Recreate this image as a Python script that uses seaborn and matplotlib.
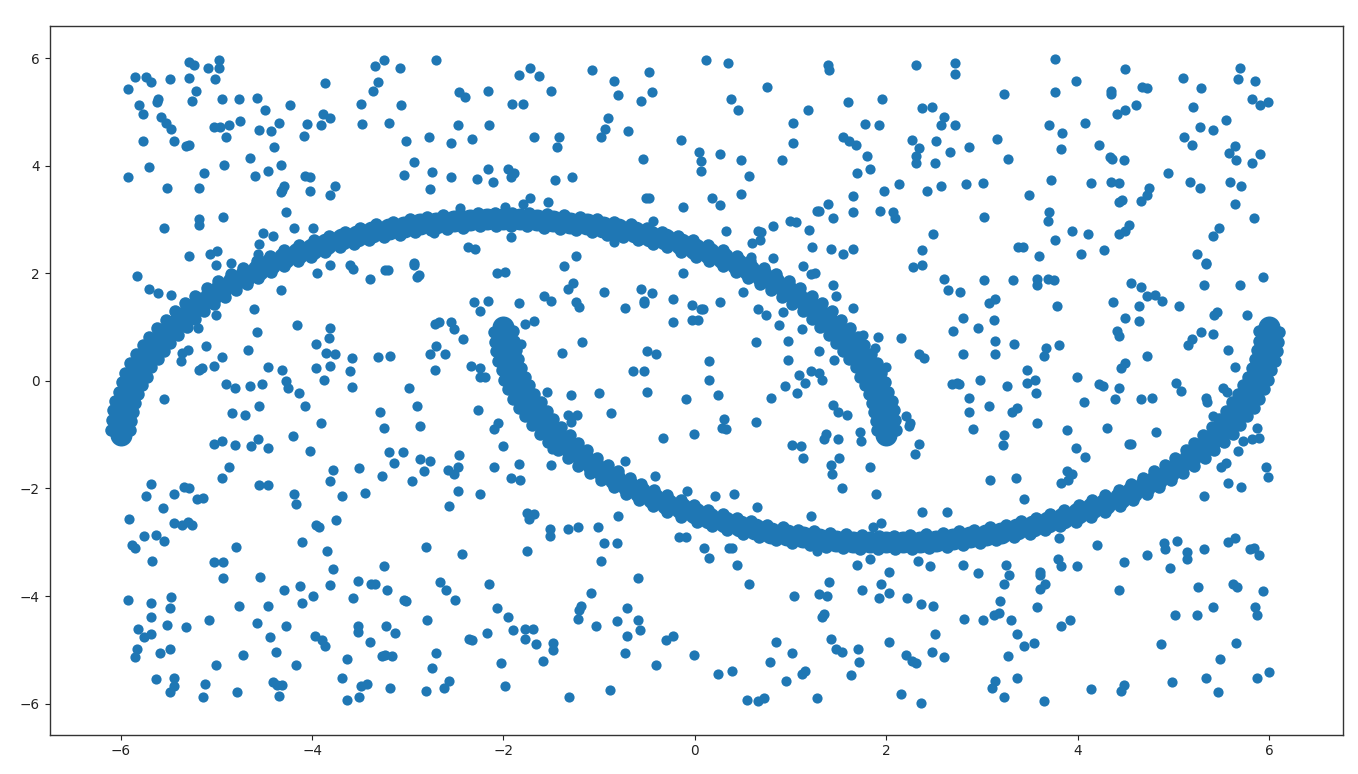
import matplotlib
matplotlib.use("Agg")
import matplotlib.pyplot as plt
import seaborn as sns

# Scattered points
region_top_1 = [(-4.97,5.96),(-4.97,5.82),(-5.29,5.93),(-5.23,5.88),(-5.09,5.82),(-5.85,5.64),(-5.74,5.64),(-5.68,5.55),(-5.49,5.61),(-5.29,5.63),(-5.01,5.61),(-3.86,5.53),(-5.92,5.42),(-5.21,5.39),(-5.81,5.12),(-5.77,4.96),(-5.61,5.23),(-5.62,5.18),(-5.26,5.20),(-4.94,5.23),(-4.76,5.23),(-4.58,5.25),(-4.49,5.04),(-4.23,5.12),(-3.49,5.15),(-5.58,4.91),(-5.53,4.80),(-5.47,4.69),(-5.03,4.72),(-4.96,4.72),(-4.87,4.75),(-4.75,4.83),(-4.55,4.67),(-4.43,4.64),(-4.35,4.80),(-4.05,4.77),(-3.91,4.75),(-3.89,4.96),(-3.81,4.88),(-3.48,4.77),(-4.08,4.56),(-4.90,4.53),(-5.77,4.45),(-5.44,4.45),(-5.32,4.37),(-5.29,4.39),(-4.40,4.34),(-4.65,4.15),(-4.92,4.02),(-4.32,4.02),(-4.46,3.91),(-5.70,3.97),(-5.92,3.78),(-5.13,3.86),(-4.60,3.81),(-4.07,3.81),(-4.02,3.78),(-5.52,3.59),(-5.18,3.59),(-4.29,3.62),(-4.32,3.51),(-4.31,3.55),(-4.02,3.53),(-3.76,3.62),(-3.81,3.45),(-4.27,3.13),(-4.93,3.05),(-5.18,3.00),(-5.18,2.89),(-5.55,2.84),(-4.19,2.84),(-3.99,2.84),(-4.51,2.75),(-4.41,2.70),(-4.55,2.54),(-4.56,2.35),(-5.29,2.33),(-5.07,2.35),(-4.99,2.41),(-4.85,2.20)]
region_top_2 = [(-3.34,5.85),(-3.25,5.96),(-3.08,5.82),(-2.71,5.96),(-3.31,5.55),(-3.36,5.39),(-3.07,5.12),(-3.20,4.80),(-3.02,4.45),(-2.78,4.53),(-2.55,4.42),(-2.33,4.50),(-2.48,4.75),(-2.15,4.75),(-2.46,5.36),(-2.40,5.28),(-2.16,5.39),(-1.84,5.69),(-1.72,5.82),(-1.63,5.66),(-1.50,5.39),(-1.91,5.15),(-1.80,5.15),(-1.68,4.53),(-1.42,4.53),(-1.44,4.34),(-1.07,5.77),(-0.85,5.58),(-0.48,5.74),(-0.45,5.36),(-0.80,5.31),(-0.56,5.20),(-0.91,4.88),(-0.94,4.69),(-0.98,4.53),(-0.70,4.64),(-0.15,4.48),(0.04,4.26),(0.06,4.08),(0.06,3.91),(-0.54,4.13),(-2.93,4.07),(-3.04,3.83),(-2.75,3.89),(-2.55,3.78),(-2.77,3.56),(-2.28,3.75),(-2.16,3.94),(-2.11,3.70),(-1.95,3.94),(-1.89,3.86),(-1.92,3.78),(-1.46,3.73),(-1.28,3.78),(-1.72,3.40),(-1.80,3.29),(-1.53,3.32),(-0.51,3.40),(-0.48,3.40),(-0.12,3.24),(-2.45,3.21),(-1.98,3.24),(-0.44,2.97),(-1.92,2.67),(-2.37,2.49),(-2.30,2.46),(-1.24,2.33),(-0.85,2.59),(-2.73,2.75),(-2.93,2.20)]
region_top_3 = [(0.12,5.96),(0.35,5.90),(1.39,5.88),(1.40,5.77),(2.31,5.88),(2.72,5.90),(2.72,5.71),(0.75,5.47),(3.23,5.34),(0.38,5.23),(0.45,5.04),(1.18,5.04),(1.60,5.18),(1.96,5.23),(2.37,5.07),(2.48,5.09),(2.60,4.91),(2.57,4.75),(2.72,4.75),(1.03,4.80),(1.78,4.77),(1.92,4.75),(1.55,4.53),(1.61,4.45),(1.68,4.39),(1.03,4.42),(2.27,4.48),(2.34,4.32),(2.52,4.45),(2.86,4.34),(3.16,4.50),(2.67,4.26),(2.31,4.18),(2.31,4.05),(2.51,4.05),(3.27,4.13),(0.26,4.21),(0.48,4.10),(0.91,4.10),(1.80,4.18),(0.57,3.81),(1.83,3.94),(1.69,3.86),(2.13,3.65),(1.98,3.53),(2.43,3.53),(2.57,3.62),(2.83,3.65),(3.01,3.67),(0.48,3.48),(0.18,3.40),(0.26,3.27),(1.65,3.43),(1.39,3.29),(1.30,3.16),(1.28,3.16),(1.65,3.13),(1.44,3.03),(1.93,3.16),(2.07,3.13),(2.09,3.03),(3.02,3.05),(3.49,3.46),(0.99,2.97),(1.06,2.95),(0.82,2.87),(1.19,2.81),(2.49,2.73),(0.33,2.79),(0.66,2.79),(0.69,2.77),(0.68,2.62),(0.60,2.57),(1.22,2.49),(1.42,2.46),(1.55,2.35),(1.65,2.46),(2.37,2.43),(0.82,2.28),(0.59,2.31),(3.38,2.49),(3.43,2.49)]
region_top_4 = [(3.76,5.98),(4.49,5.79),(5.70,5.82),(5.10,5.63),(5.68,5.61),(5.85,5.58),(3.98,5.58),(3.76,5.36),(4.35,5.39),(4.35,5.34),(4.67,5.47),(4.72,5.45),(5.29,5.45),(5.82,5.23),(5.91,5.12),(5.99,5.18),(5.21,5.09),(4.61,5.12),(4.49,5.04),(4.41,4.96),(5.55,4.85),(4.08,4.80),(3.70,4.75),(3.84,4.61),(5.28,4.72),(5.41,4.67),(3.83,4.31),(4.22,4.39),(5.11,4.53),(5.20,4.39),(5.64,4.37),(5.58,4.23),(5.65,4.10),(5.82,4.05),(5.91,4.21),(4.34,4.16),(4.36,4.13),(4.48,4.10),(4.94,3.86),(3.72,3.73),(4.14,3.67),(4.35,3.70),(4.43,3.67),(5.17,3.69),(5.28,3.59),(5.59,3.69),(5.71,3.62),(4.75,3.59),(4.73,3.45),(4.66,3.35),(4.46,3.37),(4.43,3.32),(5.64,3.29),(3.70,3.13),(3.69,2.97),(5.84,3.03),(4.54,2.89),(4.49,2.79),(4.43,2.73),(5.48,2.84),(5.41,2.70),(3.94,2.79),(4.11,2.73),(3.76,2.62),(4.28,2.43),(4.03,2.35),(3.60,2.33),(5.25,2.35),(5.34,2.20)]
region_mid_1 = [(-5.83,1.95),(-5.70,1.71),(-5.61,1.63),(-5.47,1.60),(-5.00,2.16),(-3.95,2.00),(-3.81,2.16),(-3.60,2.16),(-3.57,2.08),(-3.40,1.90),(-4.32,1.68),(-4.61,1.33),(-5.00,1.23),(-5.19,0.98),(-4.16,1.04),(-3.81,0.99),(-3.82,0.80),(-4.58,0.91),(-3.96,0.69),(-5.11,0.64),(-5.30,0.58),(-4.67,0.58),(-5.36,0.51),(-5.37,0.37),(-3.85,0.52),(-3.76,0.50),(-4.94,0.44),(-3.58,0.42),(-5.18,0.21),(-5.15,0.24),(-5.03,0.28),(-4.46,0.26),(-4.31,0.21),(-3.81,0.28),(-3.96,0.23),(-3.60,0.18),(-3.88,0.02),(-4.27,-0.01),(-4.25,-0.14),(-4.52,-0.06),(-4.65,-0.09),(-4.81,-0.14),(-4.90,-0.06),(-4.14,-0.23),(-3.58,-0.12),(-5.55,-0.33),(-4.07,-0.47),(-4.55,-0.47),(-4.84,-0.60),(-4.70,-0.63),(-3.91,-0.79),(-4.20,-1.03),(-4.56,-1.08),(-4.94,-1.11),(-5.02,-1.17),(-4.81,-1.19),(-4.64,-1.22),(-4.46,-1.25),(-4.02,-1.30),(-4.87,-1.60),(-3.78,-1.65),(-3.51,-1.62),(-4.94,-1.81),(-3.81,-1.86),(-5.68,-1.92),(-5.34,-1.97),(-5.29,-2.00),(-4.55,-1.94),(-4.46,-1.94),(-5.74,-2.14),(-5.44,-2.10),(-5.20,-2.19),(-5.14,-2.17),(-4.19,-2.10),(-3.69,-2.14),(-3.45,-2.08)]
region_mid_2 = [(-2.93,2.16),(-3.24,2.06),(-3.21,2.06),(-2.90,1.93),(-2.88,1.96),(-2.07,2.00),(-1.98,2.03),(-1.37,2.14),(-0.12,2.00),(-1.27,1.82),(-1.33,1.71),(-0.95,1.65),(-0.56,1.71),(-0.45,1.63),(-1.58,1.57),(-1.50,1.49),(-2.31,1.47),(-2.16,1.49),(-1.84,1.44),(-2.25,1.30),(-1.24,1.46),(-1.21,1.38),(-0.53,1.49),(-0.53,1.44),(-0.23,1.52),(-0.03,1.41),(-0.73,1.36),(0.06,1.33),(-0.23,1.09),(-0.03,1.14),(0.03,1.14),(-2.72,1.06),(-2.67,1.09),(-2.55,1.09),(-2.52,0.96),(-2.42,0.77),(-1.78,1.06),(-1.68,1.12),(-2.71,0.64),(-2.77,0.50),(-2.61,0.50),(-1.18,0.72),(-1.39,0.52),(-1.82,0.69),(-0.50,0.55),(-0.41,0.50),(-3.31,0.44),(-3.19,0.47),(-2.72,0.20),(-2.34,0.28),(-2.25,0.24),(-2.25,0.07),(-2.19,0.07),(-0.65,0.18),(-0.53,0.18),(-2.99,-0.14),(-1.54,-0.20),(-1.29,-0.26),(-1.00,-0.22),(-0.50,-0.20),(-0.09,-0.33),(-2.90,-0.47),(-3.29,-0.58),(-2.27,-0.55),(-1.33,-0.63),(-1.23,-0.63),(-1.29,-0.76),(-0.88,-0.60),(-2.06,-0.79),(-2.10,-0.90),(-3.25,-0.87),(-2.87,-0.84),(-0.33,-1.06),(-0.01,-0.98),(-2.00,-1.22),(-3.20,-1.33),(-3.05,-1.33),(-2.46,-1.38),(-3.14,-1.52),(-2.87,-1.46),(-2.77,-1.49),(-2.48,-1.60),(-2.58,-1.65),(-2.83,-1.68),(-2.52,-1.73),(-3.27,-1.76),(-2.10,-1.60),(-1.84,-1.54),(-1.50,-1.57),(-0.73,-1.49),(-0.42,-1.76),(-2.96,-1.87),(-1.92,-1.81),(-1.83,-1.84),(-2.48,-2.05),(-2.25,-2.10),(-0.08,-2.05),(-1.49,-1.26)]
region_mid_3 = [(1.13,2.14),(1.21,1.98),(1.26,2.00),(2.28,2.11),(2.37,2.16),(2.60,1.90),(3.02,1.87),(3.32,1.87),(2.65,1.68),(2.77,1.65),(1.44,1.79),(1.48,1.57),(0.50,1.65),(3.07,1.44),(3.14,1.52),(1.65,1.36),(0.26,1.47),(0.09,1.33),(0.66,1.33),(0.74,1.22),(0.92,1.28),(0.88,1.04),(2.80,1.17),(3.13,1.14),(2.70,0.93),(2.96,0.98),(1.12,0.96),(1.76,0.86),(1.91,0.82),(2.15,0.80),(0.64,0.72),(0.97,0.75),(3.14,0.75),(3.34,0.69),(1.88,0.61),(1.30,0.55),(2.80,0.50),(3.14,0.50),(2.34,0.50),(2.39,0.42),(0.97,0.39),(1.45,0.39),(0.15,0.37),(2.00,0.26),(3.47,0.20),(1.21,0.18),(1.30,0.15),(1.09,0.10),(0.15,0.02),(1.33,0.02),(1.15,-0.04),(2.98,0.02),(0.94,-0.09),(2.69,-0.06),(2.74,-0.04),(2.76,-0.06),(3.26,-0.09),(3.47,-0.04),(0.24,-0.26),(1.07,-0.23),(0.80,-0.31),(2.86,-0.31),(1.44,-0.44),(1.50,-0.58),(1.59,-0.63),(3.07,-0.47),(3.37,-0.50),(3.31,-0.58),(2.86,-0.58),(0.30,-0.71),(0.28,-0.87),(0.33,-0.90),(0.64,-0.76),(2.21,-0.66),(2.25,-0.78),(2.24,-0.84),(2.91,-0.90),(1.37,-0.98),(1.35,-1.08),(1.50,-1.08),(1.73,-0.95),(1.74,-1.11),(3.23,-1.00),(3.22,-1.20),(1.01,-1.20),(1.11,-1.22),(2.34,-1.17),(2.30,-1.36),(1.13,-1.44),(1.51,-1.44),(1.42,-1.57),(1.43,-1.73),(1.83,-1.60),(3.08,-1.84),(3.36,-1.81),(1.54,-2.00),(0.21,-2.14),(0.41,-2.11),(1.89,-2.11),(3.44,-2.19)]
region_mid_4 = [(5.34,2.18),(5.94,1.93),(5.32,1.79),(5.70,1.79),(3.58,1.90),(3.58,1.79),(3.69,1.90),(3.75,1.87),(4.56,1.82),(4.66,1.74),(4.72,1.57),(4.81,1.60),(4.88,1.49),(4.37,1.47),(4.64,1.39),(3.78,1.39),(5.06,1.39),(4.49,1.17),(4.64,1.12),(5.46,1.28),(5.43,1.22),(5.77,1.22),(4.41,0.93),(4.43,0.84),(5.29,0.90),(5.41,0.88),(5.20,0.77),(5.15,0.66),(3.81,0.66),(3.67,0.61),(3.65,0.47),(5.57,0.58),(4.72,0.47),(4.50,0.34),(4.45,0.23),(5.64,0.26),(3.99,0.07),(3.55,0.02),(4.22,-0.06),(4.26,-0.09),(4.43,-0.14),(5.03,-0.04),(5.08,-0.18),(5.52,-0.14),(5.56,-0.20),(3.57,-0.23),(4.07,-0.39),(4.39,-0.34),(4.66,-0.34),(4.78,-0.31),(5.34,-0.31),(5.35,-0.39),(5.41,-0.66),(3.58,-0.79),(3.89,-0.92),(4.31,-0.87),(4.82,-0.95),(5.87,-0.87),(5.90,-1.06),(5.82,-1.08),(5.73,-1.11),(4.54,-1.17),(4.56,-1.17),(3.98,-1.25),(4.08,-1.41),(5.68,-1.30),(5.55,-1.52),(5.50,-1.60),(5.97,-1.60),(5.99,-1.79),(3.89,-1.68),(3.94,-1.73),(3.90,-1.84),(3.83,-1.89),(5.57,-1.89),(5.71,-1.97),(5.32,-2.14)]
region_low_1 = [(-5.91,-2.56),(-5.56,-2.37),(-5.44,-2.64),(-5.36,-2.67),(-5.30,-2.62),(-5.26,-2.67),(-5.76,-2.89),(-5.63,-2.86),(-5.55,-2.97),(-5.88,-3.05),(-5.85,-3.10),(-5.67,-3.34),(-4.79,-3.08),(-5.02,-3.37),(-4.93,-3.37),(-4.93,-3.67),(-4.54,-3.64),(-4.17,-2.28),(-4.11,-2.99),(-3.96,-2.67),(-3.93,-2.72),(-3.75,-2.59),(-3.84,-3.16),(-3.78,-3.50),(-3.81,-3.80),(-3.52,-3.72),(-4.29,-3.88),(-4.13,-3.82),(-3.99,-3.99),(-4.11,-4.12),(-3.57,-4.04),(-5.92,-4.07),(-5.68,-4.12),(-5.47,-4.02),(-5.49,-4.23),(-4.76,-4.18),(-4.46,-4.18),(-5.68,-4.39),(-5.52,-4.53),(-5.82,-4.61),(-5.32,-4.58),(-5.08,-4.45),(-4.58,-4.50),(-4.27,-4.55),(-3.52,-4.55),(-3.52,-4.66),(-5.76,-4.76),(-5.68,-4.71),(-4.44,-4.77),(-3.97,-4.74),(-3.90,-4.82),(-3.87,-4.93),(-3.40,-4.85),(-5.83,-4.98),(-5.49,-4.98),(-5.59,-5.06),(-5.85,-5.14),(-4.72,-5.09),(-4.38,-5.04),(-3.64,-5.17),(-5.00,-5.28),(-4.17,-5.28),(-5.63,-5.55),(-5.44,-5.52),(-5.44,-5.68),(-5.49,-5.79),(-5.12,-5.63),(-5.14,-5.87),(-4.78,-5.79),(-4.41,-5.60),(-4.37,-5.66),(-4.31,-5.66),(-4.35,-5.85),(-3.69,-5.52),(-3.49,-5.68),(-3.43,-5.63),(-3.51,-5.87),(-3.64,-5.93),(-3.38,-3.78)]
region_low_2 = [(-2.57,-2.32),(-1.75,-2.45),(-1.68,-2.48),(-1.73,-2.56),(-0.80,-2.51),(-1.51,-2.75),(-1.51,-2.89),(-1.33,-2.75),(-1.22,-2.72),(-1.01,-2.72),(-0.95,-3.02),(-0.81,-3.02),(-1.75,-3.16),(-2.81,-3.08),(-2.43,-3.21),(-0.98,-3.34),(-0.17,-2.91),(-0.09,-2.91),(-3.25,-3.45),(-0.59,-3.66),(-3.34,-3.78),(-3.22,-3.88),(-2.66,-3.74),(-2.60,-3.88),(-2.51,-4.07),(-2.15,-3.78),(-1.09,-3.94),(-3.04,-4.07),(-3.02,-4.10),(-2.07,-4.23),(-1.95,-4.39),(-2.80,-4.45),(-1.19,-4.18),(-1.21,-4.26),(-1.22,-4.42),(-0.71,-4.23),(-0.59,-4.45),(-0.81,-4.47),(-1.03,-4.55),(-3.23,-4.55),(-3.13,-4.69),(-2.17,-4.69),(-1.90,-4.63),(-1.78,-4.61),(-1.69,-4.61),(-1.77,-4.80),(-0.57,-4.63),(-0.71,-4.74),(-2.36,-4.80),(-2.33,-4.82),(-1.66,-4.90),(-1.48,-4.88),(-1.48,-5.01),(-0.23,-4.74),(-0.30,-4.82),(-2.71,-5.06),(-3.27,-5.11),(-3.24,-5.09),(-3.16,-5.12),(-0.73,-5.06),(-0.01,-5.09),(-1.59,-5.20),(-2.03,-5.25),(-2.75,-5.33),(-0.41,-5.28),(-2.57,-5.57),(-2.62,-5.71),(-2.81,-5.77),(-3.19,-5.71),(-1.98,-5.68),(-1.32,-5.87),(-0.89,-5.74)]
region_low_3 = [(0.65,-2.35),(1.21,-2.51),(2.37,-2.43),(2.63,-2.43),(1.94,-2.64),(1.86,-2.72),(0.10,-3.10),(0.15,-3.29),(0.36,-3.10),(0.39,-3.10),(0.44,-3.42),(0.57,-3.78),(1.04,-3.99),(1.28,-3.16),(1.69,-3.42),(1.83,-3.32),(2.03,-3.56),(2.33,-3.34),(2.46,-3.45),(2.80,-3.42),(2.96,-3.58),(3.25,-3.42),(3.28,-3.61),(3.23,-3.78),(1.40,-3.74),(1.95,-3.78),(1.75,-3.89),(2.03,-3.94),(1.30,-3.96),(1.38,-3.99),(1.92,-4.04),(2.22,-4.04),(2.36,-4.15),(2.49,-4.18),(3.19,-4.10),(1.35,-4.34),(1.33,-4.39),(3.18,-4.31),(3.13,-4.36),(2.81,-4.42),(3.01,-4.44),(3.30,-4.45),(3.37,-4.71),(2.51,-4.71),(1.42,-4.80),(0.85,-4.85),(2.03,-4.85),(1.71,-4.98),(1.48,-4.98),(1.54,-5.04),(1.01,-5.06),(2.48,-5.04),(3.44,-4.93),(2.21,-5.09),(2.27,-5.20),(2.31,-5.25),(2.60,-5.14),(3.27,-5.12),(0.78,-5.23),(1.72,-5.23),(1.15,-5.39),(1.12,-5.44),(1.63,-5.47),(0.39,-5.39),(0.24,-5.44),(0.95,-5.57),(3.37,-5.53),(3.14,-5.57),(3.11,-5.71),(2.15,-5.82),(3.23,-5.87),(1.28,-5.90),(0.54,-5.93),(0.66,-5.95),(0.72,-5.90),(2.36,-5.98)]
region_low_4 = [(3.81,-2.92),(4.20,-3.05),(4.90,-3.02),(4.91,-3.13),(5.04,-2.97),(5.14,-3.18),(5.14,-3.32),(5.32,-3.13),(5.57,-3.00),(5.64,-2.92),(5.80,-3.13),(5.84,-3.10),(5.90,-3.24),(4.73,-3.24),(4.48,-3.37),(4.96,-3.48),(3.79,-3.32),(3.83,-3.45),(3.99,-3.45),(3.61,-3.56),(3.61,-3.61),(3.66,-3.78),(3.61,-3.86),(4.43,-3.88),(5.26,-3.83),(5.62,-3.78),(5.67,-3.83),(5.94,-3.91),(3.58,-4.20),(5.41,-4.20),(5.85,-4.20),(5.02,-4.36),(5.25,-4.36),(5.87,-4.36),(3.92,-4.44),(3.83,-4.55),(3.54,-4.88),(4.87,-4.90),(5.65,-4.88),(5.49,-5.17),(6.00,-5.41),(5.87,-5.52),(5.34,-5.52),(4.99,-5.60),(4.48,-5.65),(4.45,-5.77),(4.14,-5.73),(5.47,-5.79),(3.65,-5.95)]

# Upper moon: the dense middle of the band, then its outer and inner edges
upper_core = [(-6.00,-1.00),(-6.00,-.83),(-5.99,-.65),(-5.97,-.48),(-5.94,-.31),(-5.91,-.13),(-5.86,.04),(-5.82,.20),(-5.76,.37),(-5.70,.53),(-5.63,.69),(-5.55,.85),(-5.46,1.00),(-5.37,1.15),(-5.28,1.29),(-5.17,1.44),(-5.06,1.57),(-4.95,1.70),(-4.83,1.83),(-4.70,1.95),(-4.57,2.06),(-4.44,2.17),(-4.29,2.28),(-4.15,2.37),(-4.00,2.46),(-3.85,2.55),(-3.69,2.63),(-3.53,2.70),(-3.37,2.76),(-3.20,2.82),(-3.04,2.86),(-2.87,2.91),(-2.70,2.94),(-2.52,2.97),(-2.35,2.99),(-2.17,3.00),(-2.00,3.00),(-1.83,3.00),(-1.65,2.99),(-1.48,2.97),(-1.30,2.94),(-1.13,2.91),(-.96,2.86),(-.80,2.82),(-.63,2.76),(-.47,2.70),(-.31,2.63),(-.15,2.55),(0,2.46),(.15,2.37),(.29,2.28),(.44,2.17),(.57,2.06),(.70,1.95),(.83,1.83),(.95,1.70),(1.06,1.57),(1.17,1.44),(1.28,1.29),(1.37,1.15),(1.46,1.00),(1.55,.85),(1.63,.69),(1.70,.53),(1.76,.37),(1.82,.20),(1.86,.04),(1.91,-.13),(1.94,-.31),(1.97,-.48),(1.99,-.65),(2.00,-.83),(2.00,-1.00)]
upper_outer = [(-6.10,-.91),(-6.09,-.73),(-6.08,-.55),(-6.06,-.37),(-6.02,-.20),(-5.99,-.02),(-5.95,.15),(-5.90,.33),(-5.84,.50),(-5.77,.66),(-5.70,.82),(-5.62,.98),(-5.53,1.14),(-5.43,1.29),(-5.33,1.44),(-5.22,1.58),(-5.10,1.72),(-4.98,1.85),(-4.85,1.98),(-4.72,2.10),(-4.58,2.22),(-4.44,2.33),(-4.29,2.43),(-4.14,2.53),(-3.98,2.62),(-3.82,2.70),(-3.66,2.77),(-3.50,2.84),(-3.33,2.91),(-3.15,2.96),(-2.98,3.01),(-2.80,3.05),(-2.63,3.08),(-2.45,3.10),(-2.27,3.12),(-2.09,3.12),(-1.91,3.12),(-1.73,3.12),(-1.55,3.10),(-1.37,3.08),(-1.20,3.05),(-1.02,3.01),(-.85,2.96),(-.67,2.91),(-.50,2.84),(-.34,2.77),(-.18,2.70),(-.02,2.62),(.14,2.53),(.29,2.43),(.44,2.33),(.58,2.22),(.72,2.10),(.85,1.98),(.98,1.85),(1.10,1.72),(1.22,1.58),(1.33,1.44),(1.43,1.29),(1.53,1.14),(1.62,.98),(1.70,.82),(1.77,.66),(1.84,.50),(1.90,.33),(1.95,.15),(1.99,-.02),(2.02,-.20),(2.06,-.37),(2.08,-.55),(2.09,-.73),(2.10,-.91)]
upper_inner = [(-5.90,-.92),(-5.89,-.75),(-5.87,-.58),(-5.85,-.41),(-5.82,-.24),(-5.78,-.08),(-5.73,.08),(-5.68,.25),(-5.61,.40),(-5.55,.56),(-5.48,.71),(-5.40,.86),(-5.31,1.01),(-5.22,1.15),(-5.13,1.29),(-5.02,1.43),(-4.91,1.56),(-4.80,1.68),(-4.68,1.80),(-4.56,1.91),(-4.43,2.02),(-4.29,2.13),(-4.15,2.22),(-4.01,2.31),(-3.86,2.40),(-3.71,2.48),(-3.56,2.55),(-3.41,2.61),(-3.25,2.67),(-3.08,2.72),(-2.92,2.77),(-2.76,2.80),(-2.59,2.83),(-2.42,2.85),(-2.25,2.87),(-2.08,2.88),(-1.92,2.88),(-1.75,2.87),(-1.58,2.85),(-1.41,2.83),(-1.24,2.80),(-1.08,2.77),(-.92,2.72),(-.75,2.67),(-.59,2.61),(-.44,2.55),(-.29,2.48),(-.14,2.40),(.01,2.31),(.15,2.22),(.29,2.13),(.43,2.02),(.56,1.91),(.68,1.80),(.80,1.68),(.91,1.56),(1.02,1.43),(1.13,1.29),(1.22,1.15),(1.31,1.01),(1.40,.86),(1.48,.71),(1.55,.56),(1.61,.40),(1.68,.25),(1.73,.08),(1.78,-.08),(1.82,-.24),(1.85,-.41),(1.87,-.58),(1.89,-.75),(1.90,-.92)]

# Lower moon, same three groups
lower_core = [(6.00,1.00),(6.00,.83),(5.99,.65),(5.97,.48),(5.94,.31),(5.91,.13),(5.86,-.04),(5.82,-.20),(5.76,-.37),(5.70,-.53),(5.63,-.69),(5.55,-.85),(5.46,-1.00),(5.37,-1.15),(5.28,-1.29),(5.17,-1.44),(5.06,-1.57),(4.95,-1.70),(4.83,-1.83),(4.70,-1.95),(4.57,-2.06),(4.44,-2.17),(4.29,-2.28),(4.15,-2.37),(4.00,-2.46),(3.85,-2.55),(3.69,-2.63),(3.53,-2.70),(3.37,-2.76),(3.20,-2.82),(3.04,-2.86),(2.87,-2.91),(2.70,-2.94),(2.52,-2.97),(2.35,-2.99),(2.17,-3.00),(2.00,-3.00),(1.83,-3.00),(1.65,-2.99),(1.48,-2.97),(1.30,-2.94),(1.13,-2.91),(.96,-2.86),(.80,-2.82),(.63,-2.76),(.47,-2.70),(.31,-2.63),(.15,-2.55),(0,-2.46),(-.15,-2.37),(-.29,-2.28),(-.44,-2.17),(-.57,-2.06),(-.70,-1.95),(-.83,-1.83),(-.95,-1.70),(-1.06,-1.57),(-1.17,-1.44),(-1.28,-1.29),(-1.37,-1.15),(-1.46,-1.00),(-1.55,-.85),(-1.63,-.69),(-1.70,-.53),(-1.76,-.37),(-1.82,-.20),(-1.86,-.04),(-1.91,.13),(-1.94,.31),(-1.97,.48),(-1.99,.65),(-2.00,.83),(-2.00,1.00)]
lower_outer = [(6.10,.91),(6.09,.73),(6.08,.55),(6.06,.37),(6.02,.20),(5.99,.02),(5.95,-.15),(5.90,-.33),(5.84,-.50),(5.77,-.66),(5.70,-.82),(5.62,-.98),(5.53,-1.14),(5.43,-1.29),(5.33,-1.44),(5.22,-1.58),(5.10,-1.72),(4.98,-1.85),(4.85,-1.98),(4.72,-2.10),(4.58,-2.22),(4.44,-2.33),(4.29,-2.43),(4.14,-2.53),(3.98,-2.62),(3.82,-2.70),(3.66,-2.77),(3.50,-2.84),(3.33,-2.91),(3.15,-2.96),(2.98,-3.01),(2.80,-3.05),(2.63,-3.08),(2.45,-3.10),(2.27,-3.12),(2.09,-3.12),(1.91,-3.12),(1.73,-3.12),(1.55,-3.10),(1.37,-3.08),(1.20,-3.05),(1.02,-3.01),(.85,-2.96),(.67,-2.91),(.50,-2.84),(.34,-2.77),(.18,-2.70),(.02,-2.62),(-.14,-2.53),(-.29,-2.43),(-.44,-2.33),(-.58,-2.22),(-.72,-2.10),(-.85,-1.98),(-.98,-1.85),(-1.10,-1.72),(-1.22,-1.58),(-1.33,-1.44),(-1.43,-1.29),(-1.53,-1.14),(-1.62,-.98),(-1.70,-.82),(-1.77,-.66),(-1.84,-.50),(-1.90,-.33),(-1.95,-.15),(-1.99,.02),(-2.02,.20),(-2.06,.37),(-2.08,.55),(-2.09,.73),(-2.10,.91)]
lower_inner = [(5.90,.92),(5.89,.75),(5.87,.58),(5.85,.41),(5.82,.24),(5.78,.08),(5.73,-.08),(5.68,-.25),(5.61,-.40),(5.55,-.56),(5.48,-.71),(5.40,-.86),(5.31,-1.01),(5.22,-1.15),(5.13,-1.29),(5.02,-1.43),(4.91,-1.56),(4.80,-1.68),(4.68,-1.80),(4.56,-1.91),(4.43,-2.02),(4.29,-2.13),(4.15,-2.22),(4.01,-2.31),(3.86,-2.40),(3.71,-2.48),(3.56,-2.55),(3.41,-2.61),(3.25,-2.67),(3.08,-2.72),(2.92,-2.77),(2.76,-2.80),(2.59,-2.83),(2.42,-2.85),(2.25,-2.87),(2.08,-2.88),(1.92,-2.88),(1.75,-2.87),(1.58,-2.85),(1.41,-2.83),(1.24,-2.80),(1.08,-2.77),(.92,-2.72),(.75,-2.67),(.59,-2.61),(.44,-2.55),(.29,-2.48),(.14,-2.40),(-.01,-2.31),(-.15,-2.22),(-.29,-2.13),(-.43,-2.02),(-.56,-1.91),(-.68,-1.80),(-.80,-1.68),(-.91,-1.56),(-1.02,-1.43),(-1.13,-1.29),(-1.22,-1.15),(-1.31,-1.01),(-1.40,-.86),(-1.48,-.71),(-1.55,-.56),(-1.61,-.40),(-1.68,-.25),(-1.73,-.08),(-1.78,.08),(-1.82,.24),(-1.85,.41),(-1.87,.58),(-1.89,.75),(-1.90,.92)]

x_ticks = [-6, -4, -2, 0, 2, 4, 6]
y_ticks = [-6, -4, -2, 0, 2, 4, 6]

scattered = (region_top_1 + region_top_2 + region_top_3 + region_top_4 +
             region_mid_1 + region_mid_2 + region_mid_3 + region_mid_4 +
             region_low_1 + region_low_2 + region_low_3 + region_low_4)
edges = upper_outer + upper_inner + lower_outer + lower_inner
core = upper_core + lower_core

BLUE = "#1f77b4"
plt.rcParams["font.family"] = "DejaVu Sans"
fig = plt.figure(figsize=(13.58, 7.74), dpi=100, facecolor="white")
ax = fig.add_axes([49.5 / 1358, (774 - 734.7) / 774, 1293.5 / 1358, 708.7 / 774])

for points, size in ((core, 251), (edges, 81), (scattered, 54)):
    sns.scatterplot(x=[p[0] for p in points], y=[p[1] for p in points],
                    s=size, color=BLUE, linewidth=0, ax=ax, legend=False)

ax.set_xlim(-6.744, 6.773)
ax.set_ylim(-6.577, 6.596)
ax.set_xticks(x_ticks)
ax.set_yticks(y_ticks)
ax.tick_params(labelsize=9.8, length=3.5, width=0.8, colors="#222222")
for spine in ax.spines.values():
    spine.set_linewidth(1.0)
    spine.set_color("#333333")

fig.savefig("out.png", dpi=100, facecolor="white")
